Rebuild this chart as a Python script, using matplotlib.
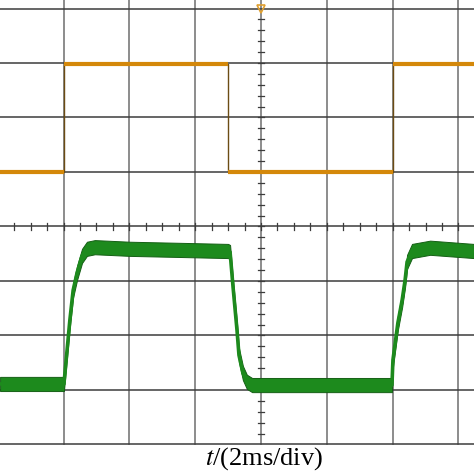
import numpy as np
import matplotlib as mpl
mpl.use("Agg")
import matplotlib.pyplot as plt

plt.rcParams['font.family'] = 'Liberation Serif'
plt.rcParams['mathtext.fontset'] = 'stix'

# time in ms (2 ms/div), amplitude in screen divisions
ch1_t = [-7.93, -6.0, -6.0, -1.0, -1.0, 4.0, 4.0, 6.47]
ch1_v = [1.0, 1.0, 2.98, 2.98, 1.0, 1.0, 2.98, 2.98]

ch2_t = [-7.93, -6.02, -5.99, -5.93, -5.81, -5.71, -5.59, -5.44, -5.29, -5.05,
         -3.98, -2.46, -1.00, -0.94, -0.85, -0.73, -0.67, -0.55, -0.43, -0.27,
         1.19, 3.98, 4.01, 4.16, 4.29, 4.38, 4.44, 4.59, 5.14, 6.47]
ch2_v = [-2.89, -2.89, -2.89, -2.50, -1.72, -1.17, -0.85, -0.54, -0.41, -0.38,
         -0.41, -0.43, -0.45, -0.47, -1.11, -1.90, -2.36, -2.69, -2.85, -2.91,
         -2.91, -2.91, -2.45, -1.77, -1.35, -0.98, -0.65, -0.45, -0.39, -0.45]

xlim = (-7.933, 6.474)
ylim = (-4.01, 4.156)

fig = plt.figure(figsize=(4.74, 4.74), dpi=100)
ax = fig.add_axes([0, 29 / 474, 1, 1 - 29 / 474])
ax.set_xlim(*xlim)
ax.set_ylim(*ylim)
ax.axis('off')

# scope graticule
for gx in np.arange(-6, 7, 2):
    ax.plot([gx, gx], [-4, ylim[1]], color='#6e6e6e', lw=1.1, zorder=1)
for gy in np.arange(-4, 5, 1):
    ax.plot(xlim, [gy, gy], color='#3c3c3c', lw=1.1, zorder=1)

# minor ticks on the centre lines
for tx in np.arange(-7.5, 6.5, 0.5):
    ax.plot([tx, tx], [-0.06, 0.06], color='#3c3c3c', lw=0.9, zorder=1)
for ty in np.arange(-3.8, 4.0, 0.2):
    ax.plot([-0.09, 0.09], [ty, ty], color='#3c3c3c', lw=0.9, zorder=1)

# channel 1 (orange): thin dark edges, thick levels
ax.plot(ch1_t, ch1_v, color='#6b4c14', lw=1.0, zorder=3)
for i in range(0, len(ch1_t), 2):
    ax.plot(ch1_t[i:i + 2], ch1_v[i:i + 2], color='#d4880a', lw=3.0,
            solid_capstyle='butt', zorder=4)

# channel 2 (green): noisy band
t2 = np.array(ch2_t)
v2 = np.array(ch2_v)
hw = 0.13
ax.fill_between(t2, v2 - hw, v2 + hw, color='#1d8a1d', lw=0.7,
                edgecolor='#155f15', zorder=3)
ax.plot(t2, v2, color='#1d8a1d', lw=2.6, zorder=4)

# trigger marker
ax.plot([0], [4.0], marker='v', ms=6, mfc='none', mec='#e0a030', mew=1.2,
        zorder=5, clip_on=False)

fig.text(264 / 474, 15 / 474, r'$t$/(2ms/div)', ha='center', va='center',
         fontsize=19)

fig.savefig('out.png', dpi=100)
